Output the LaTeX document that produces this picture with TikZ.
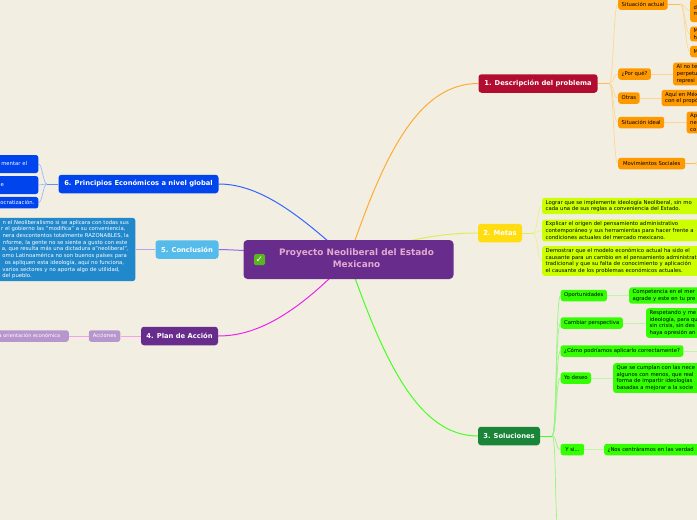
\documentclass[tikz,border=0pt]{standalone}
\usepackage{fontspec}
\usetikzlibrary{backgrounds}
\setmainfont{DejaVu Sans}
\definecolor{paper}{HTML}{F2EFE2}
\definecolor{rootpurple}{RGB}{104,44,140}
\definecolor{rootpink}{RGB}{226,170,208}
\definecolor{orangeleaf}{RGB}{255,153,0}
\definecolor{limeleaf}{RGB}{204,255,0}
\definecolor{greenleaf}{RGB}{51,255,0}
\definecolor{blueleaf}{RGB}{0,68,238}
\definecolor{skyleaf}{RGB}{34,136,204}
\definecolor{mauveleaf}{RGB}{182,150,204}
\newcommand{\ClipLine}[2]{\makebox[#1pt][r]{#2}}
\tikzset
{
  RootStyle/.style =
  {
    shape = rectangle,
    rounded corners = 4pt,
    fill = rootpurple,
    text = rootpink,
    font = \bfseries\fontsize{8.9}{12}\selectfont,
    align = center,
    minimum width = 210pt,
    minimum height = 39pt,
  },
  TopicStyle/.style =
  {
    shape = rectangle,
    rounded corners = 3pt,
    text = white,
    font = \bfseries\fontsize{6.75}{8}\selectfont,
    minimum height = 18.5pt,
    inner xsep = 2pt,
  },
  LeafStyle/.style =
  {
    shape = rectangle,
    rounded corners = 2.5pt,
    text = black,
    font = \fontsize{5.3}{6.7}\selectfont,
    align = left,
    inner xsep = 3.5pt,
    inner ysep = 2.2pt,
    minimum height = 11.5pt,
  },
  OrangeLeaf/.style = {LeafStyle, anchor = west, fill = orangeleaf},
  LimeLeaf/.style = {LeafStyle, anchor = west, fill = limeleaf},
  GreenLeaf/.style = {LeafStyle, anchor = west, fill = greenleaf},
  BlueLeaf/.style = {LeafStyle, anchor = east, fill = blueleaf, text = white},
  SkyLeaf/.style = {LeafStyle, anchor = east, fill = skyleaf, text = white},
  MauveLeaf/.style = {LeafStyle, anchor = east, fill = mauveleaf, text = white},
  MainLink/.style = {line width = 1pt},
  HubLink/.style = {line width = 1pt},
  SubLink/.style = {line width = 0.7pt},
  RightFork/.style = {out = 0, in = 180, distance = 5pt},
  LeftFork/.style = {out = 180, in = 0, distance = 4pt},
}

\begin{document}
\begin{tikzpicture}[x=1pt,y=-1pt]
  \useasboundingbox (0,0) rectangle (697,520);
  \clip (0,0) rectangle (697,520);

  % root and main topics
  \node[RootStyle] (root) at (348.5,259.5) {\hspace*{16pt}\begin{tabular}{@{}c@{}}Proyecto Neoliberal del Estado\\Mexicano\end{tabular}};
  \node[shape=rectangle, rounded corners=1.5pt, fill={rgb,255:red,90;green,180;blue,30}, text=white, minimum size=11pt, inner sep=0pt, font=\fontsize{9}{9}\selectfont] (check) at (259.5,259.5) {✓};
  \node[TopicStyle, fill={rgb,255:red,178;green,12;blue,48}, minimum width=119pt] (problema) at (538,83.5) {1. Descripción del problema};
  \node[TopicStyle, fill={rgb,255:red,255;green,221;blue,17}, minimum width=44pt] (metas) at (500,233) {2. Metas};
  \node[TopicStyle, fill={rgb,255:red,26;green,132;blue,56}, minimum width=62pt] (soluciones) at (509,436) {3. Soluciones};
  \node[TopicStyle, fill=rootpurple, minimum width=77pt] (plan) at (179.5,336) {4. Plan de Acción};
  \node[TopicStyle, fill={rgb,255:red,85;green,187;blue,234}, minimum width=63pt] (conclusion) at (187,249.5) {5. Conclusión};
  \node[TopicStyle, fill=blueleaf, minimum width=160pt] (principios) at (138.5,184) {6. Principios Económicos a nivel global};

  % leaves of 1
  \node[OrangeLeaf] (actual) at (618,4) {Situación actual};
  \node[OrangeLeaf] (porque) at (618,74) {¿Por qué?};
  \node[OrangeLeaf] (otras) at (618,98) {Otras};
  \node[OrangeLeaf] (ideal) at (618,122.5) {Situación ideal};
  \node[OrangeLeaf, minimum width=67pt] (movimientos) at (618,163.5) {Movimientos Sociales};
  \node[OrangeLeaf, text width=30pt, minimum height=23pt] (actuala) at (690,10.5) {d\\m};
  \node[OrangeLeaf, text width=30pt] (actualb) at (690,34) {M\\h};
  \node[OrangeLeaf, text width=30pt] (actualc) at (690,51.5) {M};
  \node[OrangeLeaf, text width=50pt] (porquea) at (673,74) {Al no te\\perpetu\\represi};
  \node[OrangeLeaf, text width=60pt] (otrasa) at (661.5,98) {Aquí en Méx\\con el propó};
  \node[OrangeLeaf, text width=30pt] (ideala) at (686.5,122.5) {Ap\\ne\\co};

  % leaves of 2
  \node[LimeLeaf, text width=170pt] (metaa) at (542,206) {Lograr que se implemente ideología Neoliberal, sin mo\\cada una de sus reglas a conveniencia del Estado.};
  \node[LimeLeaf, text width=170pt] (metab) at (542,230.5) {Explicar el origen del pensamiento administrativo\\contemporáneo y sus herramientas para hacer frente a\\condiciones actuales del mercado mexicano.};
  \node[LimeLeaf, text width=170pt] (metac) at (542,261) {Demostrar que el modelo económico actual ha sido el\\causante para un cambio en el pensamiento administrat\\tradicional y que su falta de conocimiento y aplicación\\el causante de los problemas económicos actuales.};

  % leaves of 3
  \node[GreenLeaf] (oportunidades) at (560.5,295.5) {Oportunidades};
  \node[GreenLeaf] (cambiar) at (560.5,323) {Cambiar perspectiva};
  \node[GreenLeaf] (como) at (560.5,351) {¿Cómo podríamos aplicarlo correctamente?};
  \node[GreenLeaf] (deseo) at (560.5,378) {Yo deseo};
  \node[GreenLeaf, minimum width=23.5pt] (ysi) at (560.5,449.5) {Y si...};
  \node[GreenLeaf, text width=90pt] (oportunidadesa) at (629,295.5) {Competencia en el mer\\agrade y este en tu pre};
  \node[GreenLeaf, text width=70pt] (cambiara) at (646,323) {Respetando y me\\ideología, para qu\\sin crisis, sin des\\haya opresión an};
  \node[GreenLeaf, text width=100pt] (deseoa) at (613,378) {Que se cumplan con las nece\\algunos con menos, que real\\forma de impartir ideologías\\basadas a mejorar a la socie};
  \node[GreenLeaf, text width=110pt] (ysia) at (604,449.5) {¿Nos centráramos en las verdad};

  % leaves of 4
  \node[MauveLeaf, minimum width=31.5pt] (acciones) at (120.5,336) {Acciones};
  \node[MauveLeaf, text width=70pt, font=\fontsize{5}{6.7}\selectfont] (orientacion) at (69,336) {\ClipLine{65}{a orientación económica}};

  % leaves of 5
  \node[SkyLeaf, text width=132pt] (conclusiona) at (135.5,249.5) {\ClipLine{129}{n el Neoliberalismo si se aplicara con todas sus}\\\ClipLine{125.7}{r el gobierno las "modifica" a su conveniencia,}\\\ClipLine{129}{nera descontentos totalmente RAZONABLES, la}\\\ClipLine{127.5}{nforme, la gente no se siente a gusto con este}\\\ClipLine{129}{a, que resulta más una dictadura a"neoliberal",}\\\ClipLine{127}{omo Latinoamérica no son buenos países para}\\\ClipLine{124.3}{os apliquen esta ideología, aquí no funciona,}\\\ClipLine{120}{varios sectores y no aporta algo de utilidad,}\\\ClipLine{32}{del pueblo.}};

  % leaves of 6
  \node[BlueLeaf, text width=35pt, minimum height=18pt] (principiosa) at (38.5,164) {\ClipLine{27.3}{mentar el}};
  \node[BlueLeaf, text width=35pt, minimum height=18pt] (principiosb) at (38.5,185) {\ClipLine{4}{e}};
  \node[BlueLeaf, text width=35pt] (principiosc) at (38.5,202.7) {\ClipLine{34.5}{ocratización.}};

  \coordinate (problemahub) at (609,83.5);
  \coordinate (actualhub) at (680,4);
  \coordinate (movimientoshub) at (695,163.5);
  \coordinate (movimientosup) at (702,152);
  \coordinate (movimientosdown) at (702,175);
  \coordinate (metashub) at (533,233);
  \coordinate (solucioneshub) at (552,436);
  \coordinate (solucionesdown) at (559,530);
  \coordinate (comoend) at (700,351);
  \coordinate (principioshub) at (47,184);

  \begin{pgfonlayer}{background}
    \fill[paper] (0,0) rectangle (697,520);

    % connectors of the root
    \draw[MainLink, color={rgb,255:red,255;green,170;blue,51}] (root.center) .. controls (385,150) and (420,83.5) .. (problema.west);
    \draw[MainLink, color={rgb,255:red,221;green,238;blue,85}] (root.center) .. controls (400,240) and (440,233) .. (metas.west);
    \draw[MainLink, color={rgb,255:red,68;green,255;blue,34}] (root.center) .. controls (385,365) and (420,436) .. (soluciones.west);
    \draw[MainLink, color={rgb,255:red,238;green,34;blue,238}] (root.center) .. controls (300,310) and (260,336) .. (plan.east);
    \draw[MainLink, color={rgb,255:red,153;green,102;blue,238}] (root.center) .. controls (300,255) and (250,250) .. (conclusion.east);
    \draw[MainLink, color={rgb,255:red,51;green,102;blue,255}] (root.center) .. controls (300,215) and (260,184) .. (principios.east);

    % connectors of 1
    \draw[HubLink, color={rgb,255:red,255;green,187;blue,85}] (problema.east) -- (problemahub);
    \foreach \leaf in {actual, porque, otras, ideal, movimientos}
      \draw[SubLink, color={rgb,255:red,252;green,214;blue,150}] (problemahub) to[RightFork] (\leaf.west);
    \draw[HubLink, color={rgb,255:red,255;green,187;blue,85}] (actual.east) -- (actualhub);
    \foreach \leaf in {actuala, actualb, actualc}
      \draw[SubLink, color={rgb,255:red,252;green,214;blue,150}] (actualhub) to[RightFork] (\leaf.west);
    \foreach \leaf/\sub in {porque/porquea, otras/otrasa, ideal/ideala}
      \draw[SubLink, color={rgb,255:red,252;green,214;blue,150}] (\leaf.east) -- (\sub.west);
    \draw[SubLink, color={rgb,255:red,255;green,187;blue,85}] (movimientos.east) -- (movimientoshub);
    \foreach \leaf in {movimientosup, movimientosdown}
      \draw[SubLink, color={rgb,255:red,252;green,214;blue,150}] (movimientoshub) to[RightFork] (\leaf);

    % connectors of 2
    \draw[HubLink, color={rgb,255:red,221;green,238;blue,85}] (metas.east) -- (metashub);
    \foreach \leaf in {metaa, metab, metac}
      \draw[SubLink, color={rgb,255:red,228;green,243;blue,150}] (metashub) to[RightFork] (\leaf.west);

    % connectors of 3
    \draw[HubLink, color={rgb,255:red,68;green,255;blue,34}] (soluciones.east) -- (solucioneshub);
    \foreach \leaf in {oportunidades, cambiar, como, deseo, ysi}
      \draw[SubLink, color={rgb,255:red,150;green,245;blue,130}] (solucioneshub) to[RightFork] (\leaf.west);
    \draw[SubLink, color={rgb,255:red,150;green,245;blue,130}] (solucioneshub) to[RightFork] (solucionesdown);
    \foreach \leaf/\sub in {oportunidades/oportunidadesa, cambiar/cambiara, deseo/deseoa, ysi/ysia}
      \draw[SubLink, color={rgb,255:red,190;green,245;blue,170}] (\leaf.east) -- (\sub.west);
    \draw[SubLink, color={rgb,255:red,190;green,245;blue,170}] (como.east) -- (comoend);

    % connectors of 4, 5 and 6
    \draw[SubLink, color={rgb,255:red,244;green,160;blue,235}] (plan.west) -- (acciones.east);
    \draw[SubLink, color={rgb,255:red,244;green,160;blue,235}] (acciones.west) -- (orientacion.east);
    \draw[SubLink, color={rgb,255:red,190;green,160;blue,240}] (conclusion.west) -- (conclusiona.east);
    \draw[HubLink, color={rgb,255:red,100;green,140;blue,250}] (principios.west) -- (principioshub);
    \foreach \leaf in {principiosa, principiosb, principiosc}
      \draw[SubLink, color={rgb,255:red,160;green,185;blue,250}] (principioshub) to[LeftFork] (\leaf.east);
  \end{pgfonlayer}
\end{tikzpicture}
\end{document}
